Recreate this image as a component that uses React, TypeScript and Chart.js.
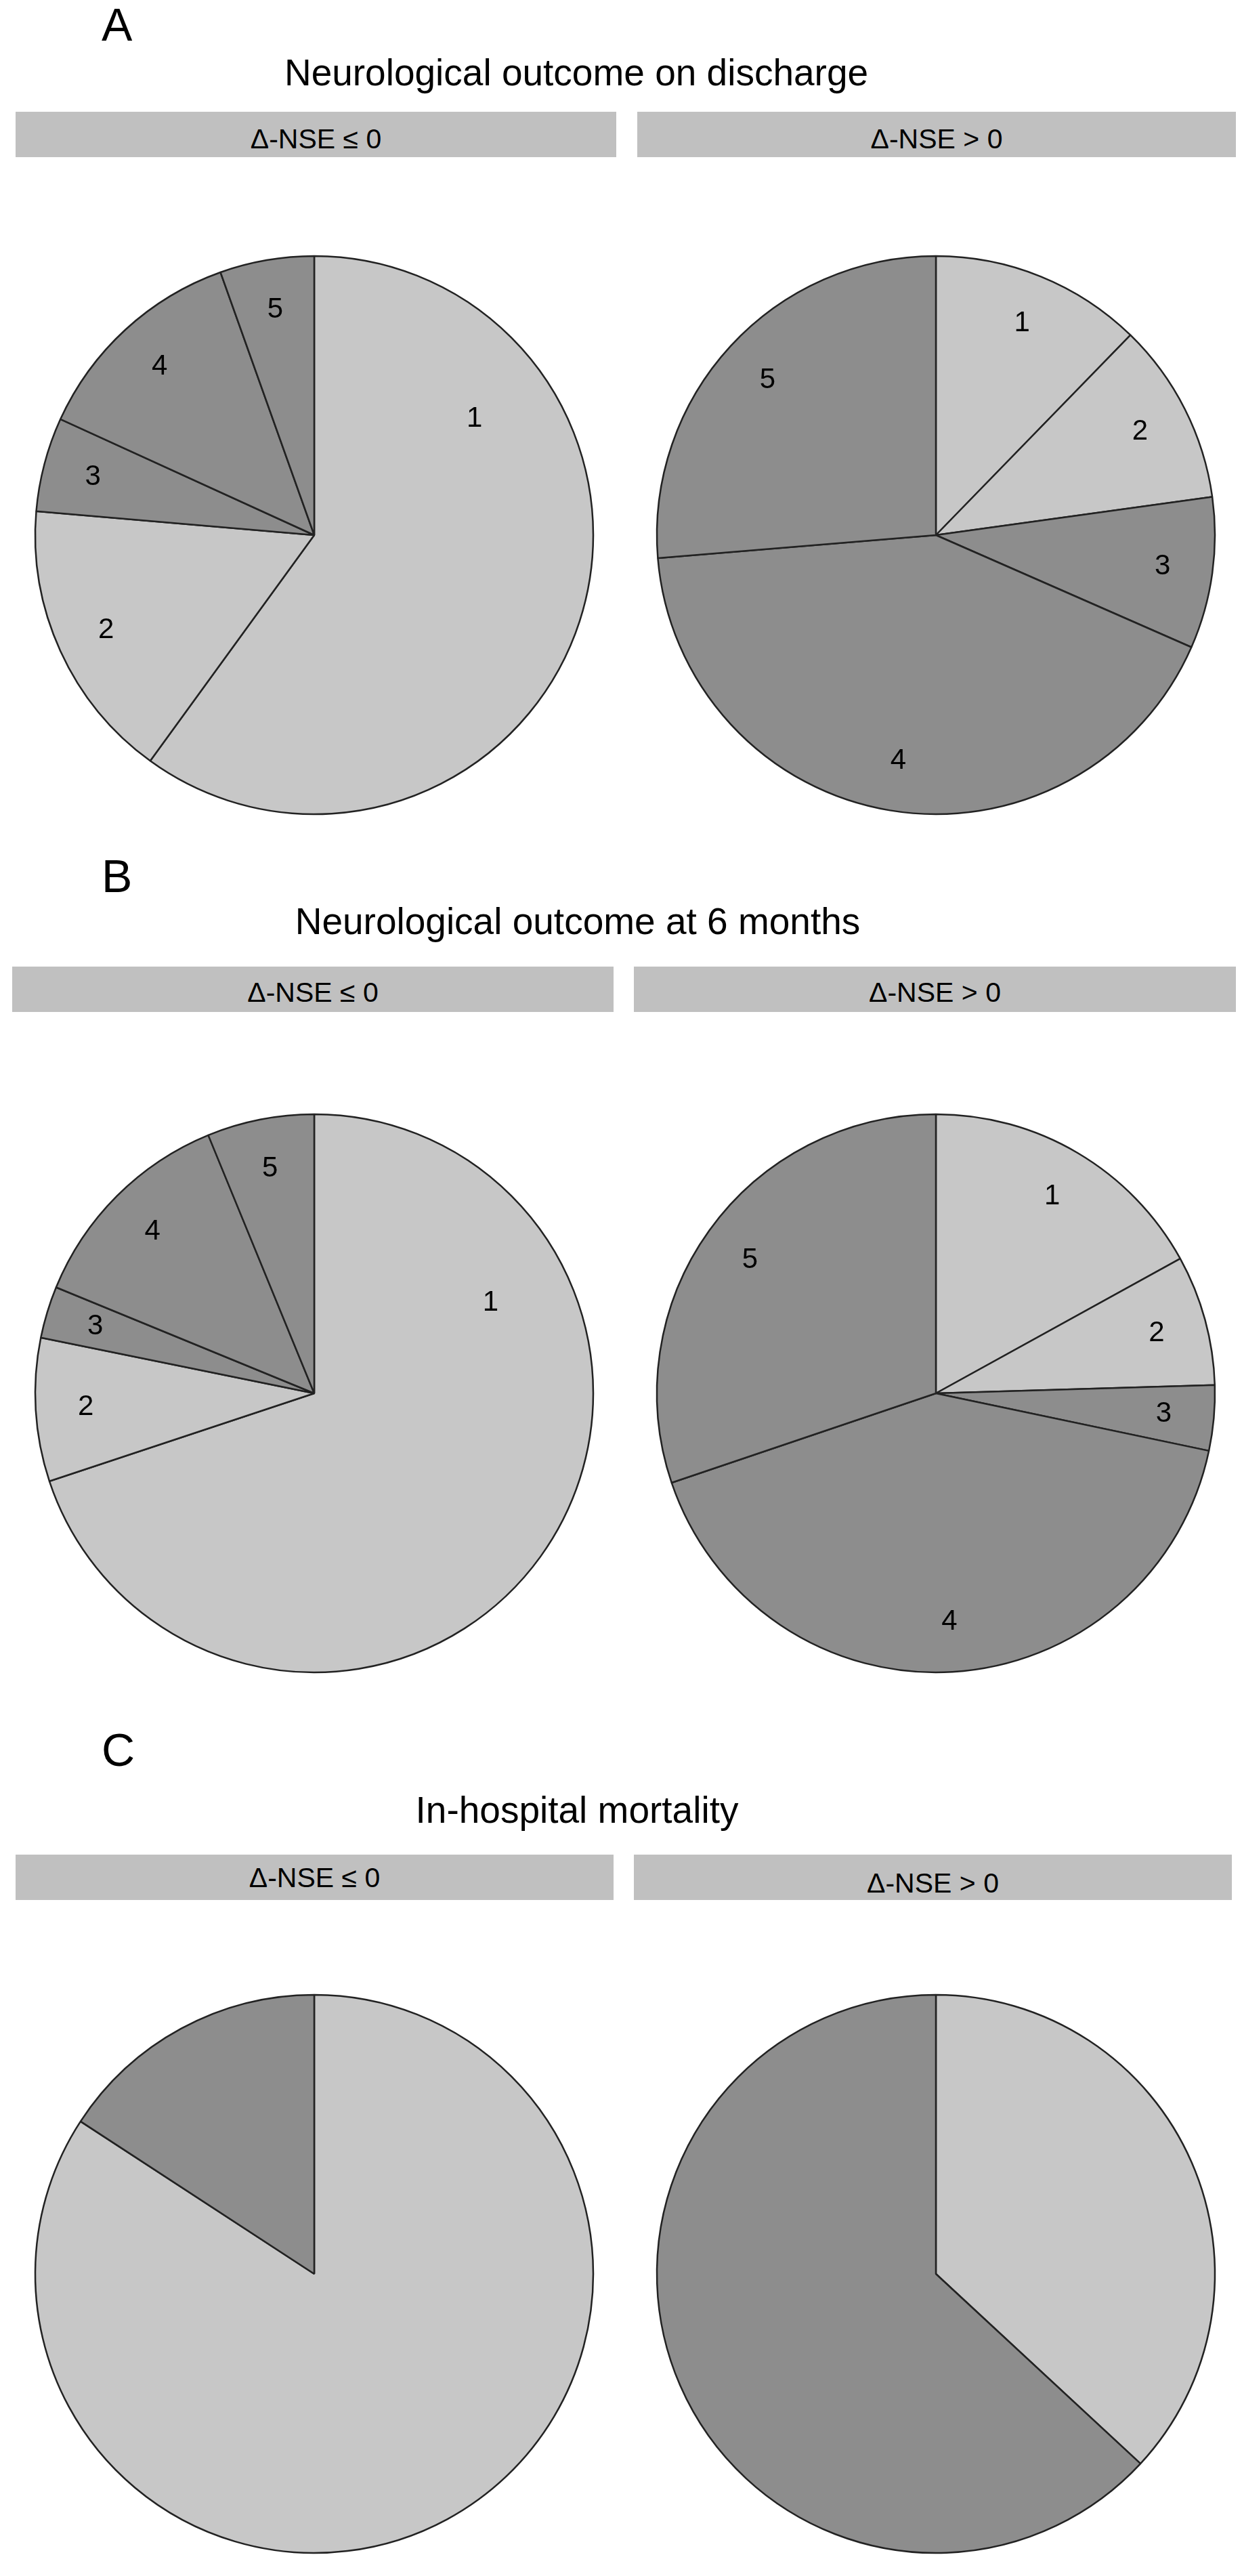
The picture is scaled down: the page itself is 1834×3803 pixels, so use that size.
import React, { useEffect, useRef } from "react";
import { Chart, registerables } from "chart.js";

Chart.register(...registerables);

// ---------- data ----------
const panelLetters = ["A", "B", "C"];
const panelTitles = [
  "Neurological outcome on discharge",
  "Neurological outcome at 6 months",
  "In-hospital mortality",
];
const groupLabels = ["\u0394-NSE \u2264 0", "\u0394-NSE > 0"];

const outcomeCategories = ["1", "2", "3", "4", "5"];
const mortalityCategories = ["Survived", "Died"];

const dischargeLowNSE = [33, 9, 3, 7, 3];
const dischargeHighNSE = [7, 6, 5, 24, 15];
const sixMonthLowNSE = [69.9, 8.3, 3.0, 12.6, 6.2];
const sixMonthHighNSE = [9, 4, 2, 22, 16];
const mortalityLowNSE = [84.2, 15.8];
const mortalityHighNSE = [36.9, 63.1];

// ---------- styles ----------
const LIGHT = "#c7c7c7";
const DARK = "#8d8d8d";
const BAR = "#c0c0c0";
const EDGE = "#222222";
const FONT = '"Liberation Sans", Arial, Helvetica, sans-serif';
const outcomeColors = [LIGHT, LIGHT, DARK, DARK, DARK];
const mortalityColors = [LIGHT, DARK];

const PIE_R = 412;
const CANVAS = 880;

const sliceLabelPlugin = {
  id: "sliceLabels",
  afterDatasetsDraw(chart: any, _args: any, opts: any) {
    if (!opts || !opts.show) return;
    const ctx = chart.ctx;
    const meta = chart.getDatasetMeta(0);
    meta.data.forEach((arc: any, i: number) => {
      const p = arc.getProps(["x", "y", "startAngle", "endAngle", "outerRadius"], true);
      const span = p.endAngle - p.startAngle;
      const big = span > Math.PI;
      const a = big ? p.startAngle + span / 4 : (p.startAngle + p.endAngle) / 2;
      const r = p.outerRadius * (big ? 0.71 : 0.82);
      ctx.save();
      ctx.font = `42px ${FONT}`;
      ctx.fillStyle = "#000";
      ctx.textAlign = "center";
      ctx.textBaseline = "middle";
      ctx.fillText(String(chart.data.labels[i]), p.x + r * Math.cos(a), p.y + r * Math.sin(a));
      ctx.restore();
    });
  },
};

function Pie(props: {
  cx: number;
  cy: number;
  values: number[];
  categories: string[];
  colors: string[];
  showLabels: boolean;
}) {
  const ref = useRef<HTMLCanvasElement | null>(null);
  useEffect(() => {
    if (!ref.current) return;
    const chart = new Chart(ref.current, {
      type: "pie",
      data: {
        labels: props.categories,
        datasets: [
          {
            data: props.values,
            backgroundColor: props.colors,
            borderColor: EDGE,
            borderWidth: 2.5,
            radius: PIE_R,
          } as any,
        ],
      },
      options: {
        responsive: false,
        animation: false,
        layout: { padding: 0 },
        plugins: {
          legend: { display: false },
          tooltip: { enabled: false },
          title: { display: false },
          sliceLabels: { show: props.showLabels },
        } as any,
      },
      plugins: [sliceLabelPlugin as any],
    });
    return () => chart.destroy();
  }, []);
  return (
    <canvas
      ref={ref}
      width={CANVAS}
      height={CANVAS}
      style={{
        position: "absolute",
        left: props.cx - CANVAS / 2,
        top: props.cy - CANVAS / 2,
        width: CANVAS,
        height: CANVAS,
      }}
    />
  );
}

function Text(props: {
  text: string;
  x: number;
  baseline: number;
  size: number;
  align: "left" | "center";
}) {
  const top = props.baseline - 0.8465 * props.size;
  const style: any = {
    position: "absolute",
    top,
    fontSize: props.size,
    lineHeight: `${props.size}px`,
    fontFamily: FONT,
    color: "#000",
    whiteSpace: "nowrap",
  };
  if (props.align === "center") {
    style.left = props.x - 1000;
    style.width = 2000;
    style.textAlign = "center";
  } else {
    style.left = props.x;
  }
  return <div style={style}>{props.text}</div>;
}

function Bar(props: { x1: number; x2: number; top: number; text: string; textBaseline: number }) {
  return (
    <>
      <div
        style={{
          position: "absolute",
          left: props.x1,
          top: props.top,
          width: props.x2 - props.x1,
          height: 67,
          background: BAR,
        }}
      />
      <Text text={props.text} x={(props.x1 + props.x2) / 2} baseline={props.textBaseline} size={41} align="center" />
    </>
  );
}

const panels = [
  {
    letterBase: 60,
    titleBase: 127,
    titleCx: 851,
    barTop: 165,
    bars: [
      [23, 910],
      [941, 1825],
    ],
    textOff: [55, 55],
    cy: 790,
    values: [dischargeLowNSE, dischargeHighNSE],
    categories: outcomeCategories,
    colors: outcomeColors,
    labels: true,
  },
  {
    letterBase: 1317,
    titleBase: 1380,
    titleCx: 853,
    barTop: 1427,
    bars: [
      [18, 906],
      [936, 1825],
    ],
    textOff: [53, 53],
    cy: 2057,
    values: [sixMonthLowNSE, sixMonthHighNSE],
    categories: outcomeCategories,
    colors: outcomeColors,
    labels: true,
  },
  {
    letterBase: 2607,
    titleBase: 2692,
    titleCx: 852,
    barTop: 2738,
    bars: [
      [23, 906],
      [936, 1819],
    ],
    textOff: [49, 57],
    cy: 3357,
    values: [mortalityLowNSE, mortalityHighNSE],
    categories: mortalityCategories,
    colors: mortalityColors,
    labels: false,
  },
];

const pieCx = [464, 1382];

export default function App() {
  return (
    <div
      style={{
        position: "absolute",
        left: 0,
        top: 0,
        width: 1834,
        height: 3803,
        background: "#ffffff",
        overflow: "hidden",
      }}
    >
      {panels.map((p, pi) => (
        <React.Fragment key={pi}>
          <Text text={panelLetters[pi]} x={150} baseline={p.letterBase} size={68} align="left" />
          <Text text={panelTitles[pi]} x={p.titleCx} baseline={p.titleBase} size={55} align="center" />
          {p.bars.map((b, bi) => (
            <Bar
              key={bi}
              x1={b[0]}
              x2={b[1]}
              top={p.barTop}
              text={groupLabels[bi]}
              textBaseline={p.barTop + p.textOff[bi]}
            />
          ))}
          {p.values.map((v, vi) => (
            <Pie
              key={vi}
              cx={pieCx[vi]}
              cy={p.cy}
              values={v}
              categories={p.categories}
              colors={p.colors}
              showLabels={p.labels}
            />
          ))}
        </React.Fragment>
      ))}
    </div>
  );
}
